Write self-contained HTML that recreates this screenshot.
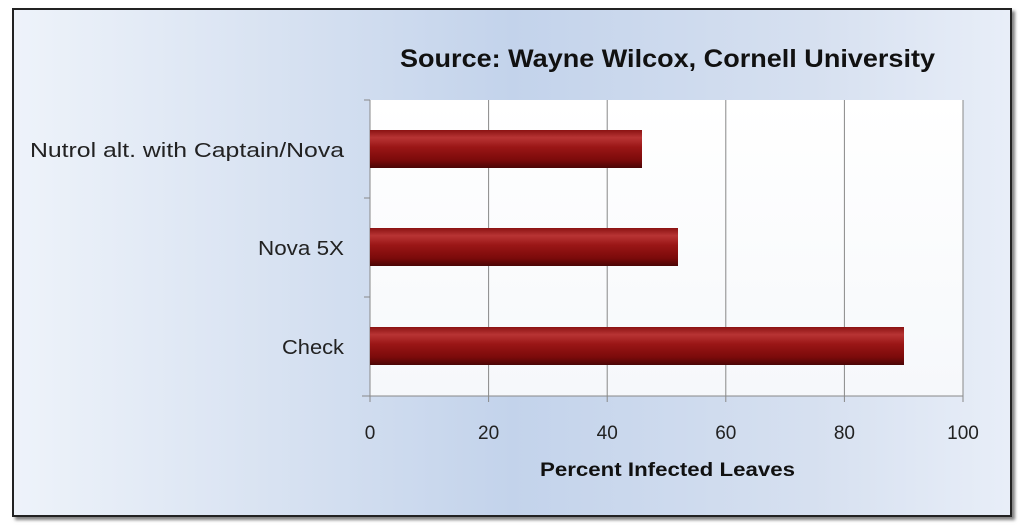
<!DOCTYPE html>
<html><head><style>
body{margin:0;width:1024px;height:529px;background:#fff;overflow:hidden;font-family:"Liberation Sans",sans-serif;}
#f{position:absolute;left:12px;top:8px;width:996px;height:505px;border:2px solid #222;box-shadow:3px 3px 3px rgba(0,0,0,.5);
background:linear-gradient(90deg,#eef3fa 0%,#d9e3f2 25%,#c3d3eb 50%,#d6e0f0 80%,#e8eef8 100%);}
</style></head><body>
<div id="f"></div>
<svg width="1024" height="529" style="position:absolute;left:0;top:0">
<defs>
<linearGradient id="b" x1="0" y1="0" x2="0" y2="1">
<stop offset="0" stop-color="#8a1212"/><stop offset=".2" stop-color="#b83434"/><stop offset=".45" stop-color="#9a1616"/><stop offset=".8" stop-color="#7a0a0a"/><stop offset="1" stop-color="#4a0606"/>
</linearGradient>
<linearGradient id="p" x1="0" y1="0" x2="0" y2="1"><stop offset="0" stop-color="#fff"/><stop offset="1" stop-color="#f6f8fb"/></linearGradient>
</defs>
<rect x="370" y="100" width="593" height="296" fill="url(#p)"/>
<g stroke="#888" stroke-width="1">
<line x1="488.6" y1="100" x2="488.6" y2="396"/><line x1="607.2" y1="100" x2="607.2" y2="396"/>
<line x1="725.8" y1="100" x2="725.8" y2="396"/><line x1="844.4" y1="100" x2="844.4" y2="396"/>
<line x1="963" y1="100" x2="963" y2="396"/>
<line x1="370" y1="100" x2="370" y2="402"/><line x1="362" y1="396" x2="963" y2="396"/>
<line x1="364" y1="100" x2="370" y2="100"/><line x1="364" y1="198" x2="370" y2="198"/><line x1="364" y1="297" x2="370" y2="297"/>
<line x1="488.6" y1="396" x2="488.6" y2="402"/><line x1="607.2" y1="396" x2="607.2" y2="402"/><line x1="725.8" y1="396" x2="725.8" y2="402"/><line x1="844.4" y1="396" x2="844.4" y2="402"/><line x1="963" y1="396" x2="963" y2="402"/>
</g>
<rect x="370" y="130" width="272" height="38" fill="url(#b)"/>
<rect x="370" y="228" width="308" height="38" fill="url(#b)"/>
<rect x="370" y="327" width="534" height="38" fill="url(#b)"/>
<g font-size="20" fill="#222">
<text x="30" y="157" textLength="314" lengthAdjust="spacingAndGlyphs">Nutrol alt. with Captain/Nova</text>
<text x="258" y="255" textLength="86" lengthAdjust="spacingAndGlyphs">Nova 5X</text>
<text x="282" y="354" textLength="62" lengthAdjust="spacingAndGlyphs">Check</text>
</g>
<g font-size="19" fill="#222" text-anchor="middle">
<text x="370" y="439">0</text><text x="488.6" y="439">20</text><text x="607.2" y="439">40</text><text x="725.8" y="439">60</text><text x="844.4" y="439">80</text><text x="963" y="439">100</text>
</g>
<text x="540" y="476" font-size="19" font-weight="bold" fill="#111" textLength="255" lengthAdjust="spacingAndGlyphs">Percent Infected Leaves</text>
<text x="400" y="67" font-size="25" font-weight="bold" fill="#111" textLength="535" lengthAdjust="spacingAndGlyphs">Source: Wayne Wilcox, Cornell University</text>
</svg>
</body></html>
